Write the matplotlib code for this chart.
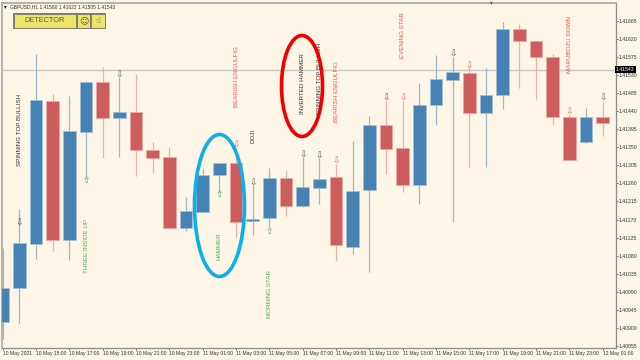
import matplotlib
matplotlib.use('Agg')
import matplotlib.pyplot as plt
from matplotlib.patches import Ellipse, Rectangle

plt.rcParams['font.family'] = ['Liberation Sans', 'DejaVu Sans']

bg = '#fdf5e6'
up_color = '#4682b4'
down_color = '#cd5c5c'
green = '#4fb04f'
red = '#ff5050'
dark = '#333333'

opens = [1.40915, 1.40999, 1.41109, 1.41465, 1.41119, 1.41387, 1.41512, 1.41422, 1.41437, 1.41343,
         1.41325, 1.41149, 1.41188, 1.41280, 1.41310, 1.41166, 1.41173, 1.41273, 1.41203, 1.41248,
         1.41275, 1.41101, 1.41243, 1.41405, 1.41348, 1.41256, 1.41455, 1.41517, 1.41534, 1.41435,
         1.41480, 1.41644, 1.41614, 1.41574, 1.41425, 1.41363, 1.41425]
highs = [1.41099, 1.41196, 1.41582, 1.41482, 1.41477, 1.41514, 1.41549, 1.41524, 1.41532, 1.41363,
         1.41350, 1.41226, 1.41298, 1.41310, 1.41348, 1.41256, 1.41298, 1.41293, 1.41325, 1.41323,
         1.41308, 1.41365, 1.41427, 1.41465, 1.41465, 1.41509, 1.41579, 1.41574, 1.41549, 1.41547,
         1.41661, 1.41656, 1.41614, 1.41582, 1.41430, 1.41447, 1.41462]
lows = [1.40872, 1.40912, 1.41071, 1.41091, 1.41069, 1.41273, 1.41323, 1.41325, 1.41278, 1.41285,
        1.41146, 1.41141, 1.41188, 1.41238, 1.41126, 1.41131, 1.41151, 1.41178, 1.41201, 1.41208,
        1.41066, 1.41084, 1.41039, 1.41283, 1.41238, 1.41208, 1.41405, 1.41163, 1.41300, 1.41300,
        1.41445, 1.41497, 1.41470, 1.41405, 1.41318, 1.41360, 1.41378]
closes = [1.40999, 1.41111, 1.41467, 1.41119, 1.41390, 1.41512, 1.41422, 1.41437, 1.41343, 1.41323,
          1.41149, 1.41191, 1.41280, 1.41310, 1.41163, 1.41171, 1.41273, 1.41203, 1.41251, 1.41270,
          1.41106, 1.41241, 1.41405, 1.41345, 1.41256, 1.41455, 1.41519, 1.41537, 1.41435, 1.41480,
          1.41644, 1.41614, 1.41574, 1.41425, 1.41318, 1.41425, 1.41410]

current_price = 1.41543

price_ticks = [1.40855, 1.40900, 1.40945, 1.40990, 1.41035, 1.41080, 1.41125, 1.41170, 1.41215,
               1.41260, 1.41305, 1.41350, 1.41395, 1.41440, 1.41485, 1.41530, 1.41575, 1.41620, 1.41665]
time_ticks = [0, 2, 4, 6, 8, 10, 12, 14, 16, 18, 20, 22, 24, 26, 28, 30, 32, 34, 36]
time_labels = ['10 May 2021', '10 May 15:00', '10 May 17:00', '10 May 19:00', '10 May 21:00', '10 May 23:00',
               '11 May 01:00', '11 May 03:00', '11 May 05:00', '11 May 07:00', '11 May 09:00', '11 May 11:00',
               '11 May 13:00', '11 May 15:00', '11 May 17:00', '11 May 19:00', '11 May 21:00', '11 May 23:00',
               '12 May 01:00']

# pattern names: candle, price of the lower end of the text, name, colour
pattern_idx = [1, 5, 13, 14, 15, 16, 18, 19, 20, 24, 34]
pattern_price = [1.41303, 1.41037, 1.41069, 1.41450, 1.41360, 1.40925, 1.41432, 1.41430, 1.41412, 1.41572, 1.41534]
pattern_names = ['SPINNING TOP BULLISH', 'THREE INSIDE UP', 'HAMMER', 'BEARISH ENGULFIG', 'DOJI', 'MORNING STAR',
                 'INVERTED HAMMER', 'SPINNING TOP BULLISH', 'BEARISH ENGULFIG', 'EVENING STAR', 'MARUBOZU DOWN']
pattern_colors = [dark, green, green, red, dark, green, dark, dark, red, red, red]

down_dark_idx = [1, 7, 15, 18, 19, 23, 27, 36]
down_dark_price = [1.41160, 1.41529, 1.41260, 1.41330, 1.41328, 1.41472, 1.41582, 1.41472]
down_red_idx = [14, 20, 24, 28, 34]
down_red_price = [1.41355, 1.41315, 1.41472, 1.41552, 1.41437]
up_idx = [5, 13, 16]
up_price = [1.41267, 1.41232, 1.41141]

fig = plt.figure(figsize=(6.4, 3.6), dpi=100, facecolor=bg)

# axes box taken from the window: left 2, right 615.5, top 2.5, bottom 347.7 px
ax = fig.add_axes([2 / 640, 1 - 347.7 / 360, 613.5 / 640, 345.2 / 360], facecolor=bg)
ax.set_xlim((2 - 2.67) / 16.67, (615.5 - 2.67) / 16.67)
ax.set_ylim(1.40851, 1.41710)

ax.axhline(current_price, color='#c8c8c8', lw=1, zorder=1)

for i in range(len(opens)):
    rising = closes[i] >= opens[i]
    wick = '#9db7cd' if rising else '#eeb0aa'
    ax.vlines(i, lows[i], highs[i], color=wick, lw=0.9, zorder=2)
    ax.bar(i, abs(closes[i] - opens[i]), bottom=min(opens[i], closes[i]), width=0.76,
           color=up_color if rising else down_color,
           edgecolor='#a3c1da' if rising else '#eda9a3', linewidth=0.5, zorder=3)

for i in range(len(pattern_names)):
    ax.text(pattern_idx[i], pattern_price[i], pattern_names[i], rotation=90, ha='center', va='bottom',
            fontsize=4.5, color=pattern_colors[i], zorder=4)

arrow_font = ['DejaVu Sans']
for i, p in zip(down_dark_idx, down_dark_price):
    ax.text(i, p, '\u21e9', ha='center', va='center', fontsize=6.5, color='#6b5b45', family=arrow_font, zorder=4)
for i, p in zip(down_red_idx, down_red_price):
    ax.text(i, p, '\u21e9', ha='center', va='center', fontsize=6.5, color='#f46a6a', family=arrow_font, zorder=4)
for i, p in zip(up_idx, up_price):
    ax.text(i, p, '\u21e7', ha='center', va='center', fontsize=6.5, color=green, family=arrow_font, zorder=4)

ax.yaxis.tick_right()
ax.set_yticks(price_ticks)
ax.set_yticklabels(['%.5f' % p for p in price_ticks], fontsize=3.7, color='#333333')
ax.set_xticks(time_ticks)
ax.set_xticklabels(time_labels, fontsize=3.6, color='#333333', ha='left')
ax.tick_params(axis='both', length=1.5, width=0.6, color='#555555', pad=1)
for side in ['top', 'left']:
    ax.spines[side].set_color('#a8a8a8')
    ax.spines[side].set_linewidth(1.2)
for side in ['right', 'bottom']:
    ax.spines[side].set_color('#8c8c8c')
    ax.spines[side].set_linewidth(0.9)

ax.text(1.001, (current_price - 1.40851) / (1.41710 - 1.40851), '%.5f' % current_price, transform=ax.transAxes,
        fontsize=3.7, color='white', ha='left', va='center', zorder=6,
        bbox=dict(boxstyle='square,pad=0.25', fc='black', ec='none'), clip_on=False)

# overlay in window pixels for the panel and the hand drawn rings
ov = fig.add_axes([0, 0, 1, 1], facecolor='none')
ov.set_xlim(0, 640)
ov.set_ylim(360, 0)
ov.axis('off')

ov.add_patch(Ellipse((219.5, 205.5), 50, 142, fc='none', ec='#0bb0ea', lw=2.6))
ov.add_patch(Ellipse((302, 86), 41, 101, fc='none', ec='#f00000', lw=2.6))

ov.add_patch(Rectangle((13, 13), 93, 16, fc='#7f7f70', ec='none'))
ov.add_patch(Rectangle((14.5, 14.5), 61.5, 13, fc='#eee468', ec='none'))
ov.add_patch(Rectangle((78, 14.5), 12, 13, fc='#eee468', ec='none'))
ov.add_patch(Rectangle((92, 14.5), 12.5, 13, fc='#eee468', ec='none'))
ov.text(45, 21, 'DETECTOR', fontsize=5.3, color='#55586a', ha='center', va='center')
ov.text(84, 20.5, '\u263a', fontsize=6.5, color='#555555', ha='center', va='center', family=['DejaVu Sans'])
ov.text(97.5, 20.5, '\u261d', fontsize=6, color='#555555', ha='center', va='center', family=['DejaVu Sans'])

ov.text(4, 6.5, '\u25be', fontsize=4, color='black', ha='left', va='center', family=['DejaVu Sans'])
ov.text(10.5, 6.5, 'GBPUSD,H1 1.41580 1.41622 1.41505 1.41543', fontsize=3.5, color='#333333', ha='left', va='center')
ov.text(491, 2.5, '\u25be', fontsize=4, color='#555555', ha='center', va='center', family=['DejaVu Sans'])

fig.savefig('out.png', dpi=100, facecolor=bg)
